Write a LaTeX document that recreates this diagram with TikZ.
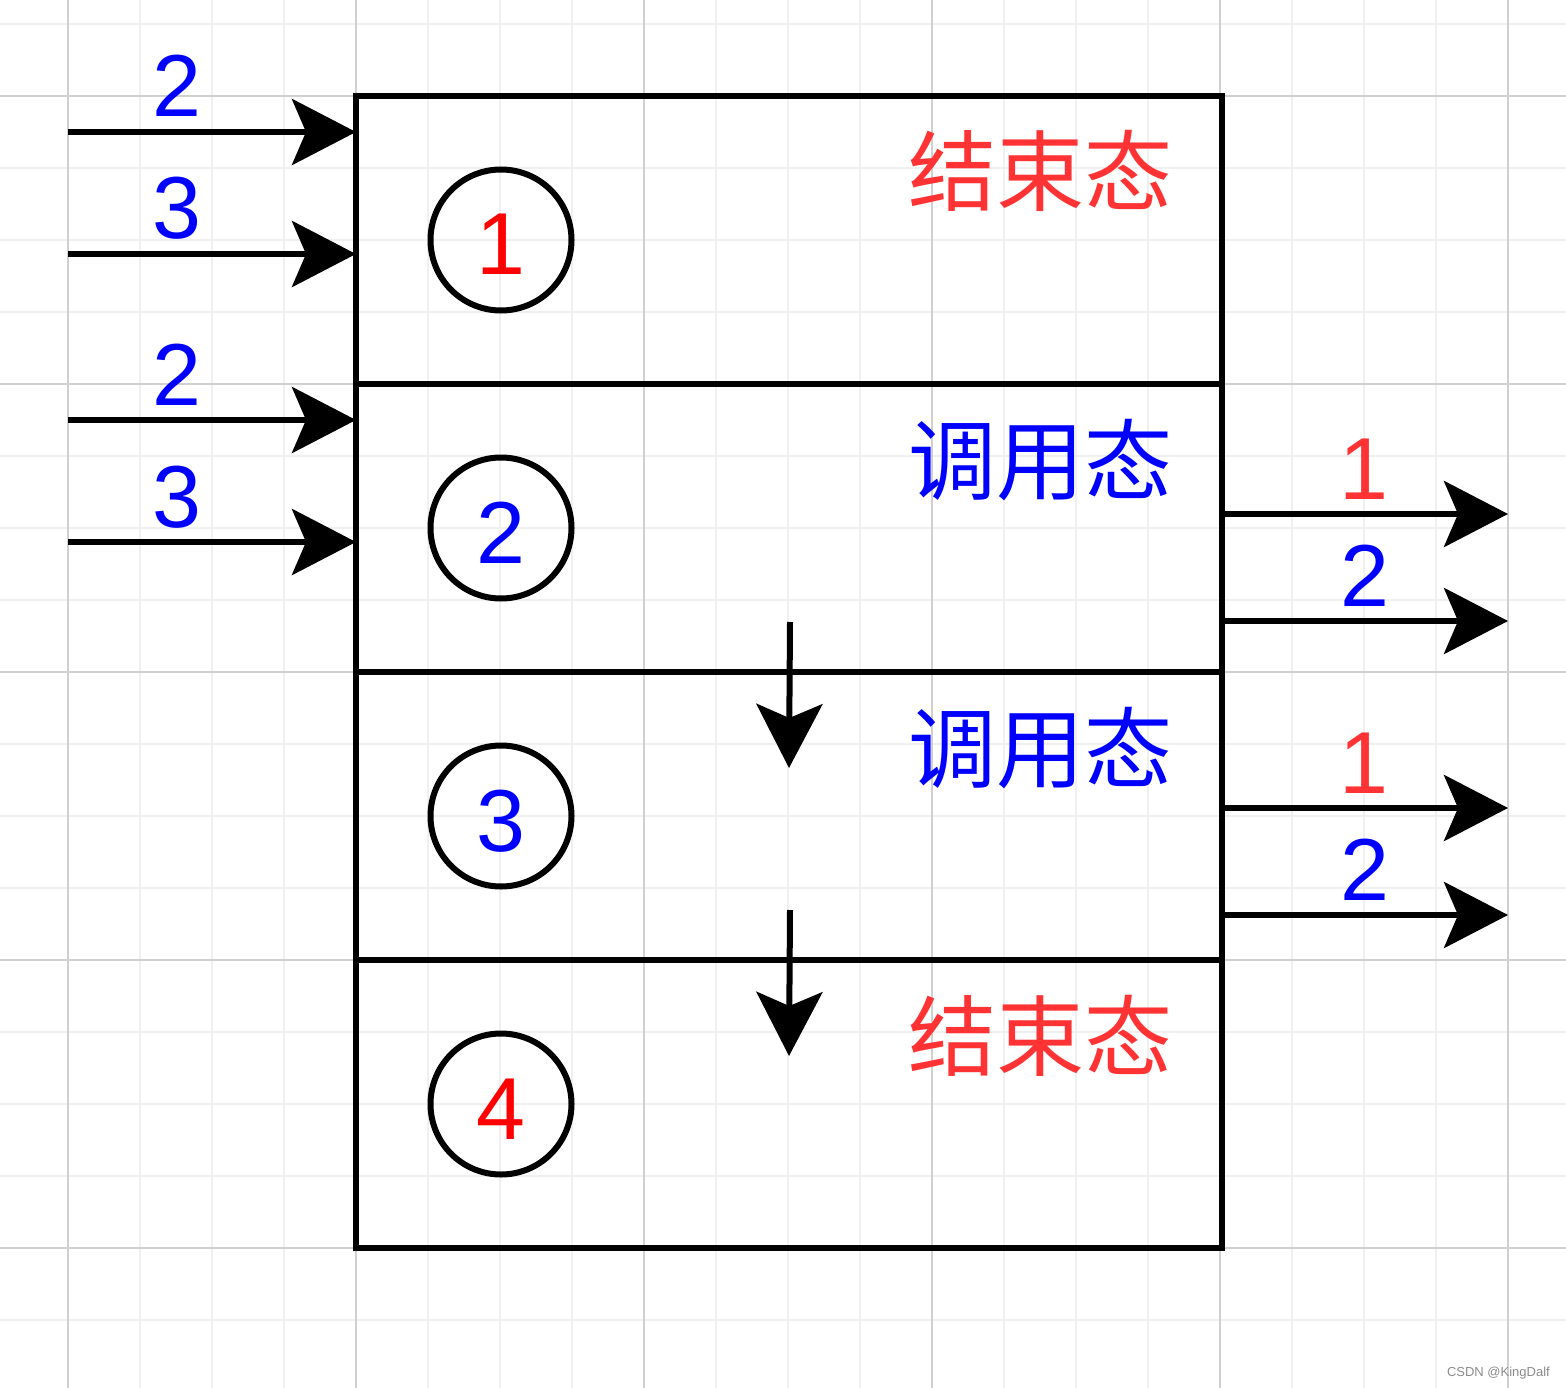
\documentclass[tikz,border=0pt]{standalone}
\usepackage{fontspec}
\setmainfont{Liberation Sans}
\newfontfamily\cjk{Noto Sans CJK SC}
\usetikzlibrary{arrows.meta}
\definecolor{lred}{HTML}{FF3333}
\definecolor{pred}{HTML}{FF0000}
\definecolor{pblue}{HTML}{0000FF}
\definecolor{gminor}{HTML}{F0F0F0}
\definecolor{gmajor}{HTML}{D0D0D0}
\tikzset{
  cell/.style={draw=black, line width=6pt, rectangle, minimum width=866pt, minimum height=288pt, inner sep=0pt, outer sep=0pt},
  numcirc/.style={draw=black, line width=6pt, circle, minimum size=141pt, inner sep=0pt},
  bigarrow/.style={line width=6pt, -{Stealth[length=64pt, width=66pt, inset=14pt]}},
  digit/.style={font=\fontsize{88}{90}\selectfont, anchor=base, inner sep=0pt},
  cjklabel/.style={font=\cjk\fontsize{88}{90}\selectfont, anchor=base, inner sep=0pt},
}
\begin{document}
\begin{tikzpicture}[x=1pt,y=-1pt]
\useasboundingbox (0,0) rectangle (1566,1388);
\fill[white] (0,0) rectangle (1566,1388);
% grid
\foreach \i in {-1,...,21} {
  \draw[gminor, line width=1.5pt] ({68+72*\i},0) -- ({68+72*\i},1388);
}
\foreach \j in {-1,...,18} {
  \draw[gminor, line width=1.5pt] (0,{96+72*\j}) -- (1566,{96+72*\j});
}
\foreach \i in {0,...,5} {
  \draw[gmajor, line width=1.5pt] ({68+288*\i},0) -- ({68+288*\i},1388);
}
\foreach \j in {0,...,4} {
  \draw[gmajor, line width=1.5pt] (0,{96+288*\j}) -- (1566,{96+288*\j});
}
% cells
\node[cell] (c1) at (789,240) {};
\node[cell] (c2) at (789,528) {};
\node[cell] (c3) at (789,816) {};
\node[cell] (c4) at (789,1104) {};
% circles
\node[numcirc] (n1) at (501,240) {};
\node[numcirc] (n2) at (501,528) {};
\node[numcirc] (n3) at (501,816) {};
\node[numcirc] (n4) at (501,1104) {};
\node[digit, text=pred] (t1) at (501,275) {1};
\node[digit, text=pblue] (t2) at (501,563) {2};
\node[digit, text=pblue] (t3) at (501,851) {3};
\node[digit, text=pred] (t4) at (501,1139) {4};
% state labels
\node[cjklabel, text=lred] (s1) at (1040,205) {结束态};
\node[cjklabel, text=pblue] (s2) at (1040,493) {调用态};
\node[cjklabel, text=pblue] (s3) at (1040,781) {调用态};
\node[cjklabel, text=lred] (s4) at (1040,1069) {结束态};
% left incoming arrows
\coordinate (la) at (68,132);
\coordinate (lb) at (68,254);
\coordinate (lc) at (68,420);
\coordinate (ld) at (68,542);
\draw[bigarrow] (la) -- (la -| c1.west);
\draw[bigarrow] (lb) -- (lb -| c1.west);
\draw[bigarrow] (lc) -- (lc -| c2.west);
\draw[bigarrow] (ld) -- (ld -| c2.west);
\node[digit, text=pblue] (la2) at (177,117) {2};
\node[digit, text=pblue] (lb3) at (177,239) {3};
\node[digit, text=pblue] (lc2) at (177,405) {2};
\node[digit, text=pblue] (ld3) at (177,527) {3};
% right outgoing arrows
\coordinate (ra) at (1508,514);
\coordinate (rb) at (1508,621);
\coordinate (rc) at (1508,808);
\coordinate (rd) at (1508,915);
\draw[bigarrow] (ra -| c2.east) -- (ra);
\draw[bigarrow] (rb -| c2.east) -- (rb);
\draw[bigarrow] (rc -| c3.east) -- (rc);
\draw[bigarrow] (rd -| c3.east) -- (rd);
\node[digit, text=lred] (ra1) at (1364,499) {1};
\node[digit, text=pblue] (rb2) at (1365,606) {2};
\node[digit, text=lred] (rc1) at (1364,793) {1};
\node[digit, text=pblue] (rd2) at (1365,900) {2};
% down arrows
\coordinate (da) at (790,622);
\coordinate (db) at (789,768);
\coordinate (dc) at (790,910);
\coordinate (dd) at (789,1056);
\draw[bigarrow] (da) -- (db);
\draw[bigarrow] (dc) -- (dd);
% watermark
\node[font=\fontsize{13}{14}\selectfont, text=black!45, anchor=base east, inner sep=0pt] (wm) at (1550,1376) {CSDN @KingDalf};
\end{tikzpicture}
\end{document}
